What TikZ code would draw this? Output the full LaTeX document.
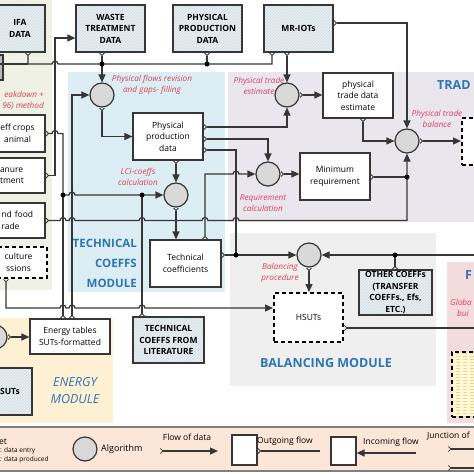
\documentclass[tikz,border=0pt]{standalone}
\usepackage{fontspec}
\setmainfont{Open Sans}
\usetikzlibrary{arrows.meta,patterns}
\definecolor{lc}{HTML}{363636}
\definecolor{redl}{HTML}{D9415A}
\definecolor{bluet}{HTML}{2E75B6}
\definecolor{hbg}{HTML}{E9EFF3}
\definecolor{hln}{HTML}{CFDAE1}
\definecolor{algf}{HTML}{D9D9D9}
\definecolor{greenbg}{HTML}{EEF1E3}
\definecolor{bluebg}{HTML}{DCEEF4}
\definecolor{purpbg}{HTML}{E9E6EE}
\definecolor{graybg}{HTML}{EFEFEF}
\definecolor{pinkbg}{HTML}{F3DCDC}
\definecolor{yelbg}{HTML}{FDF0D3}
\definecolor{legbg}{HTML}{FCE6D8}
\definecolor{legln}{HTML}{7F7F7F}
\definecolor{globbg}{HTML}{FFF8DA}
\definecolor{globln}{HTML}{F2D680}
\newcommand\myfs{\fontsize{8.5}{11.5}\selectfont}
\begin{document}
\begin{tikzpicture}[x=1pt,y=-1pt,
  wbox/.style={draw=lc,line width=1.2pt,fill=white,inner sep=0pt,align=center,font=\myfs},
  hbox/.style={draw=lc,line width=1.2pt,preaction={fill=hbg},pattern=north east lines,pattern color=hln,inner sep=0pt,align=center,font=\myfs\bfseries},
  dbox/.style={draw=black,line width=2pt,dash pattern=on 4pt off 3pt,fill=white,inner sep=0pt,align=center,font=\myfs},
  alg/.style={circle,draw=lc,line width=1.2pt,fill=algf,minimum size=24pt,inner sep=0pt},
  rlab/.style={text=redl,align=center,font=\fontsize{8.2}{11}\selectfont\itshape,inner sep=0pt},
  btitle/.style={text=bluet,font=\fontsize{12.5}{17}\selectfont\bfseries,inner sep=0pt},
  line/.style={draw=lc,line width=1.2pt},
  pf/.style={line,{Straight Barb[reversed,length=2.5pt,width=5pt,line width=0.8pt]}-{Triangle[length=8pt,width=7pt]}},
  jf/.style={line,-{Triangle[length=8pt,width=7pt]}},
  pl/.style={line,{Straight Barb[reversed,length=2.5pt,width=5pt,line width=0.8pt]}-},
  pp/.style={line,{Straight Barb[reversed,length=2.5pt,width=5pt,line width=0.8pt]}-{Straight Barb[reversed,length=2.5pt,width=5pt,line width=0.8pt]}},
  dot/.style={fill=black}]
\useasboundingbox (0,0) rectangle (474,474);
\begin{scope}
\clip (0,0) rectangle (474,474);
% backgrounds
\fill[white] (0,0) rectangle (474,474);
\fill[greenbg] (0,0) rectangle (52,290);
\fill[bluebg] (68,72) rectangle (225,292);
\fill[purpbg] (228,72) rectangle (480,222);
\fill[graybg] (230,233) rectangle (436,386);
\fill[pinkbg] (447,262) rectangle (480,423);
\fill[yelbg] (0,318) rectangle (113,423);
\fill[legbg] (0,427) rectangle (474,471);
\draw[legln,line width=1.5pt] (0,427) -- (474,427);
\draw[legln,line width=1.5pt] (0,471) -- (474,471);

% data boxes
\node[hbox,minimum width=50pt,minimum height=47pt] (ifa) at (20,28.5) {IFA\\DATA};
\node[hbox,minimum width=69pt,minimum height=47pt] (wtd) at (110.5,28.5) {WASTE\\TREATMENT\\DATA};
\node[hbox,minimum width=69pt,minimum height=47pt] (pdd) at (207.5,28.5) {PHYSICAL\\PRODUCTION\\DATA};
\node[hbox,minimum width=69pt,minimum height=47pt] (mrio) at (298.5,28.5) {MR-IOTs};
\node[hbox,minimum width=73pt,minimum height=45pt] (oth) at (395.5,292.5) {OTHER COEFFs\\(TRANSFER\\COEFFs., Efs,\\ETC.)};
\node[hbox,minimum width=71pt,minimum height=46pt] (lit) at (168.5,340) {TECHNICAL\\COEFFS FROM\\LITERATURE};
\node[hbox,minimum width=44pt,minimum height=47pt] (suts) at (10,391.5) {SUTs};
\node[draw=lc,line width=1.2pt,fill=gray!55,minimum width=8pt,minimum height=25pt,inner sep=0pt] (gbar) at (-1,67.5) {};

% white boxes
\node[wbox,minimum width=70pt,minimum height=47pt] (ppd) at (168,136.5) {Physical\\production\\data};
\node[wbox,minimum width=71pt,minimum height=47pt] (tc) at (185.5,263.5) {Technical\\coefficients};
\node[wbox,minimum width=70pt,minimum height=45pt] (ptde) at (358,95.5) {physical\\trade data\\estimate};
\node[wbox,minimum width=70pt,minimum height=47pt] (minr) at (335,176.5) {Minimum\\requirement};
\node[wbox,minimum width=80pt,minimum height=35pt] (ets) at (70,336.5) {Energy tables\\SUTs-formatted};
\node[wbox,minimum width=55pt,minimum height=37pt] (cfc) at (17.5,133.5) {eff crops\\animal};
\node[wbox,text width=35pt,inner xsep=10pt,align=left,minimum height=35pt] (man) at (17.5,175.5) {anure\\tment};
\node[wbox,text width=32pt,inner xsep=11.5pt,align=left,minimum height=35pt] (trd) at (17.5,220.5) {nd food\\rade};
\node[dbox,minimum width=57pt,minimum height=31pt] (ae) at (18.5,262.5) {culture\\ssions};
\node[dbox,minimum width=69pt,minimum height=49pt] (hsuts) at (308.5,317.5) {HSUTs};
\node[dbox,minimum width=38pt,minimum height=47pt] (trout) at (481,141.5) {};
\node[draw=black,line width=2pt,dash pattern=on 4pt off 3pt,preaction={fill=globbg},pattern=horizontal lines,pattern color=globln,minimum width=48pt,minimum height=65pt,inner sep=0pt] (glob) at (476,384.5) {};

% algorithms
\node[alg] (c1) at (102,95) {};
\node[alg] (c2) at (176,195) {};
\node[alg] (c3) at (287,95) {};
\node[alg] (c4) at (407,141) {};
\node[alg] (c5) at (268,174) {};
\node[alg] (c6) at (309,255) {};
\node[alg] (c7) at (-5,337) {};

% labels
\node[rlab] (l1) at (152,85) {Physical flows revision\\and gaps- filling};
\node[rlab] (l2) at (138,177) {LCI-coeffs\\calculation};
\node[rlab] (l3) at (259,86) {Physical trade\\estimate};
\node[rlab] (l4) at (437,119) {Physical trade\\balance};
\node[rlab] (l5) at (263,203) {Requirement\\calculation};
\node[rlab] (l6) at (280,273) {Balancing\\procedure};
\node[rlab,anchor=east,align=right] (l7) at (44,101) {eakdown +\\96) method};
\node[rlab,anchor=north west,align=left] (l8) at (450,299) {Globa\\\hspace*{7pt}bui};
\node[btitle,anchor=east,align=right,font=\fontsize{11.5}{20}\selectfont\bfseries] (t1) at (137,263) {TECHNICAL\\COEFFS\\MODULE};
\node[btitle] (t2) at (326,363) {BALANCING MODULE};
\node[btitle,align=center,font=\fontsize{12.5}{17}\selectfont\itshape] (t3) at (75,390.5) {ENERGY\\MODULE};
\node[btitle,anchor=west] (t4) at (437,85) {TRAD};
\node[btitle,anchor=west] (t5) at (465,275) {F};

% junctions
\coordinate (a0) at (0,64);
\coordinate (jw) at (102,64);
\coordinate (jp) at (207,64);
\coordinate (j63) at (63,195);
\coordinate (j142) at (142,195);
\coordinate (j236) at (236,255);
\coordinate (jmin) at (407,177);
\coordinate (jo) at (395,255);
\coordinate (rin) at (480,255);
\coordinate (rout) at (480,328);

% connectors
\draw[line] (a0) -- (28,64);
\draw[pp] (ifa.south -| 28,0) |- (52,64) arc[start angle=180,end angle=360,radius=3] -| (mrio.south -| 272,0);
\draw[pl] (pdd.south -| jp) -- (jp);
\draw[pf] (wtd.south -| jw) -- (c1.north);
\draw[pf] (man.east) -| (55,38) -- (wtd.west |- 0,38);
\draw[pl] (cfc.east) -- (52,133.5) arc[start angle=180,end angle=360,radius=3] -| (j63);
\draw[pl] (ets.north -| 63,0) -- (j63);
\draw[jf] (j63) -- (69,195) arc[start angle=180,end angle=360,radius=3] -- (j142) -- (c2.west);
\draw[pl] (lit.north -| j142) -- (j142);
\draw[pf] (ets.north -| 72,0) |- (c1.west);
\draw[pf] (c1.south) |- (ppd.west);
\draw[pf] (ppd.east |- 0,127) -| (c3.south);
\draw[pf] (ppd.east |- 0,139) -| (c5.north);
\draw[pl] (ppd.east |- 0,150) -| (j236);
\draw[pf] (ppd.south -| c2) -- (c2.north);
\draw[pf] (c2.south) -- (tc.north -| c2);
\draw[pf] (tc.north -| 205,0) |- (233,174) arc[start angle=180,end angle=360,radius=3] -- (c5.west);
\draw[pl] (tc.east |- j236) -- (j236);
\draw[jf] (j236) -- (c6.west);
\draw[pf] (c6.south) -- (hsuts.north -| c6);
\draw[pf] (ae.south -| 6,0) |- (60,308) arc[start angle=180,end angle=360,radius=3] -- (69,308) arc[start angle=180,end angle=360,radius=3] -- (139,308) arc[start angle=180,end angle=360,radius=3] -- (hsuts.west |- 0,308);
\draw[pf] (trd.east) -- (60,220.5) arc[start angle=180,end angle=360,radius=3] -- (69,220.5) arc[start angle=180,end angle=360,radius=3] -- (139,220.5) arc[start angle=180,end angle=360,radius=3] -- (202,220.5) arc[start angle=180,end angle=360,radius=3] -- (233,220.5) arc[start angle=180,end angle=360,radius=3] -| (jmin) -- (c4.south);
\draw[pl] (minr.east |- jmin) -- (jmin);
\draw[pf] (c5.east) -- (minr.west |- c5);
\draw[pf] (c3.east) -- (ptde.west |- c3);
\draw[pf] (mrio.south -| c3) -- (c3.north);
\draw[pf] (mrio.east |- 0,23) -| (c4.north);
\draw[pf] (ptde.south -| 363,0) |- (c4.west);
\draw[pf] (c4.east) -- (trout.west |- c4);
\draw[jf] (rin) -- (c6.east);
\draw[pl] (oth.north -| jo) -- (jo);
\draw[pl] (hsuts.east |- rout) -- (rout);
\draw[pf] (c7.east) -- (ets.west |- c7);
\foreach \p in {jw,jp,j63,j142,j236,jmin,jo} \fill[dot] (\p) circle (2.5);

% legend
\node[anchor=west,inner sep=0pt,font=\myfs] (lg0) at (-1,442) {et};
\node[anchor=west,inner sep=0pt,font=\fontsize{6.5}{8}\selectfont] (lg1) at (0,451) {: data entry};
\node[anchor=west,inner sep=0pt,font=\fontsize{6.5}{8}\selectfont] (lg2) at (0,459.5) {: data produced};
\node[alg] (cl) at (85,449) {};
\node[anchor=west,inner sep=0pt,font=\fontsize{9}{11}\selectfont] (lg3) at (101,449) {Algorithm};
\node[inner sep=0pt,font=\myfs] (lg4) at (187,437) {Flow of data};
\coordinate (fl1) at (160,451);
\coordinate (fl2) at (218,451);
\draw[pf] (fl1) -- (fl2);
\node[wbox,minimum width=25pt,minimum height=30pt] (ob) at (244.5,450) {};
\coordinate (oe) at (320,451);
\draw[pl] (ob.east |- oe) -- (oe);
\node[anchor=west,inner sep=0pt,font=\myfs] (lg5) at (257,441) {Outgoing flow};
\node[wbox,minimum width=25pt,minimum height=28pt] (ib) at (343.5,451) {};
\coordinate (is) at (416,453);
\draw[jf] (is) -- (ib.east |- is);
\node[inner sep=0pt,font=\myfs] (lg6) at (391,442) {Incoming flow};
\node[anchor=west,inner sep=0pt,font=\myfs] (lg7) at (427,436) {Junction of};
\coordinate (jn1) at (448,449);
\coordinate (jn1e) at (480,449);
\coordinate (jn2) at (448,468);
\coordinate (jn2e) at (480,468);
\draw[pl] (jn1) -- (jn1e);
\draw[pl] (jn2) -- (jn2e);
\end{scope}
\end{tikzpicture}
\end{document}
